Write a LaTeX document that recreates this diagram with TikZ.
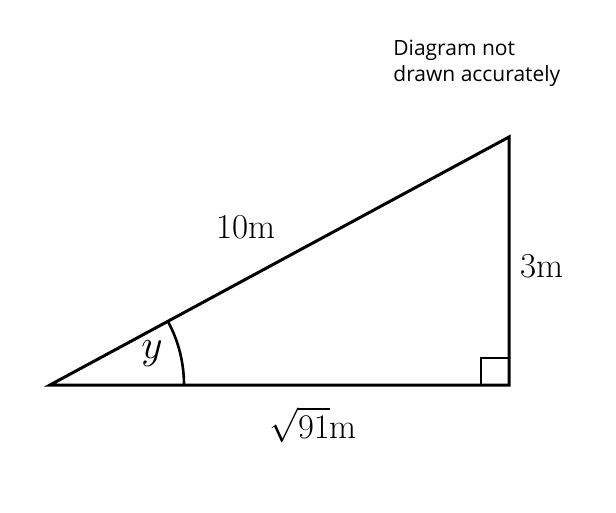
\documentclass[tikz,border=0pt]{standalone}
\usepackage{fontspec}
\newfontfamily\notefont{Open Sans}
\begin{document}
\begin{tikzpicture}[x=0.5pt,y=-0.5pt,
  side/.style={line width=1.5pt,line join=miter},
  lbl/.style={inner sep=0pt,font=\fontsize{17.5}{20}\selectfont},
  note/.style={inner sep=0pt,align=left,font=\notefont\fontsize{10.5}{12.6}\selectfont}]
\path[use as bounding box] (0,0) rectangle (616,513);
\coordinate (A) at (50,385);
\coordinate (B) at (509,385);
\coordinate (C) at (509,137);
\draw[side] (A) -- (B) -- (C) -- cycle;
\draw[line width=1.2pt] (481,385) |- (509,358);
\draw[line width=1.3pt] (A) ++(0:134) arc (0:-28.4:134);
\node[lbl,font=\fontsize{21}{24}\selectfont] (ly) at (152,354) {$y$};
\node[lbl] (lh) at (246,227) {10m};
\node[lbl] (lv) at (542,266) {3m};
\node[lbl] (lb) at (313,425) {$\sqrt{91}$m};
\node[note,anchor=north west] (nt) at (393,40) {Diagram not\\drawn accurately};
\end{tikzpicture}
\end{document}
